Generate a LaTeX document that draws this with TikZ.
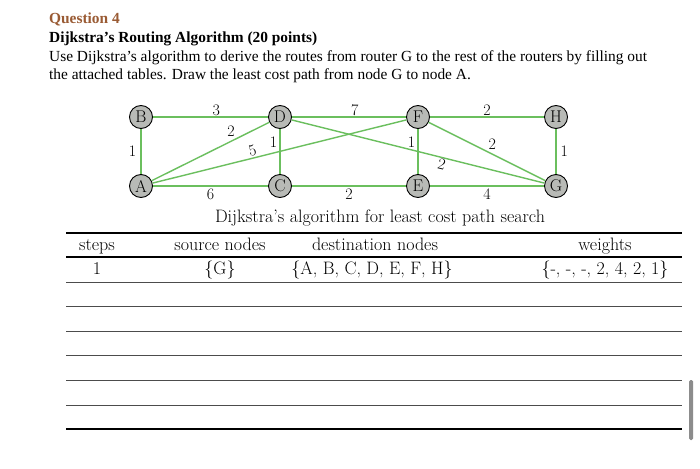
\documentclass[tikz,border=0pt]{standalone}
\usepackage{fontspec}
\newfontfamily\tnr{Liberation Serif}
\definecolor{qbrown}{HTML}{9A5B34}
\definecolor{egreen}{HTML}{6BBF5E}
\definecolor{ngray}{HTML}{B8BAB6}
\begin{document}
\begin{tikzpicture}[x=1pt,y=-1pt,
  rt/.style={circle,draw=black,fill=ngray,line width=0.9pt,minimum size=23pt,inner sep=0pt,font=\fontsize{17}{17}\selectfont},
  ed/.style={draw=egreen,line width=1.4pt},
  wl/.style={font=\fontsize{16}{16}\selectfont,inner sep=1pt},
  hd/.style={anchor=base west,inner sep=0pt,font=\tnr\fontsize{15.4}{15.4}\selectfont},
  tt/.style={anchor=base,inner sep=0pt,font=\fontsize{18}{18}\selectfont},
  thk/.style={line width=1.8pt},
  thn/.style={line width=0.9pt,draw=black!70}]
\useasboundingbox[fill=white] (0,0) rectangle (700,468);
\node[hd,text=qbrown,font=\tnr\bfseries\fontsize{15.4}{15.4}\selectfont] (q) at (49,24) {Question 4};
\node[hd,font=\tnr\bfseries\fontsize{15.4}{15.4}\selectfont] (t) at (49,43) {Dijkstra’s Routing Algorithm (20 points)};
\node[hd] (l1) at (49,62) {Use Dijkstra’s algorithm to derive the routes from router G to the rest of the routers by filling out};
\node[hd] (l2) at (49,80) {the attached tables. Draw the least cost path from node G to node A.};
% nodes
\node[rt] (B) at (141,117) {B};
\node[rt] (D) at (280,117) {D};
\node[rt] (F) at (418,117) {F};
\node[rt] (H) at (556,117) {H};
\node[rt] (A) at (141,186) {A};
\node[rt] (C) at (280,186) {C};
\node[rt] (E) at (418,186) {E};
\node[rt] (G) at (556,186) {G};
\path[ed] (B) -- (D) node[wl,pos=0.55,above=0pt] {3};
\path[ed] (D) -- (F) node[wl,pos=0.55,above=0pt] {7};
\path[ed] (F) -- (H) node[wl,pos=0.5,above=0pt] {2};
\path[ed] (B) -- (A) node[wl,midway,left=3pt] {1};
\path[ed] (H) -- (G) node[wl,midway,right=3pt] {1};
\path[ed] (A) -- (D) node[wl,pos=0.72,above left=0pt] {2};
\path[ed] (D) -- (C) node[wl,pos=0.3,left=1pt] {1};
\path[ed] (A) -- (F) node[wl,pos=0.4,above=0pt,sloped] {5};
\path[ed] (D) -- (G) node[wl,pos=0.6,below=0pt,sloped] {2};
\path[ed] (F) -- (E) node[wl,pos=0.3,left=1pt] {1};
\path[ed] (F) -- (G) node[wl,pos=0.5,above right=0pt] {2};
\path[ed] (A) -- (C) node[wl,midway,below=1pt] {6};
\path[ed] (C) -- (E) node[wl,midway,below=1pt] {2};
\path[ed] (E) -- (G) node[wl,midway,below=1pt] {4};
\node[tt] (cap) at (380,222) {Dijkstra’s algorithm for least cost path search};
% table
\coordinate (L0) at (66,233); \coordinate (R0) at (682,233);
\draw[thk] (L0) -- (R0);
\node[tt] (h1) at (97,250) {steps};
\node[tt] (h2) at (220,250) {source nodes};
\node[tt] (h3) at (375,250) {destination nodes};
\node[tt] (h4) at (605,250) {weights};
\coordinate (L1) at (66,257); \coordinate (R1) at (682,257);
\draw[thk] (L1) -- (R1);
\node[tt] (r1) at (97,274) {1};
\node[tt] (r2) at (220,274) {\{G\}};
\node[tt] (r3) at (372,274) {\{A, B, C, D, E, F, H\}};
\node[tt] (r4) at (605,274) {\{-, -, -, 2, 4, 2, 1\}};
\foreach \yy in {282,306,331,355,380,405} {
  \coordinate (La) at (66,\yy); \coordinate (Ra) at (682,\yy);
  \draw[thn] (La) -- (Ra);
}
\coordinate (L9) at (66,429); \coordinate (R9) at (682,429);
\draw[thk] (L9) -- (R9);
\fill[black!45,rounded corners=1.5pt] (689,380) rectangle (693,440);
\end{tikzpicture}
\end{document}
